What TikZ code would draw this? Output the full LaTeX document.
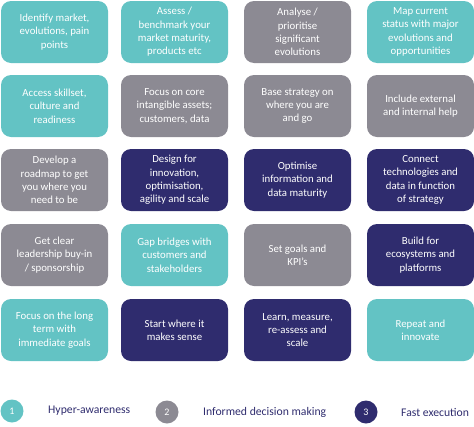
\documentclass[tikz,border=0pt]{standalone}
\usepackage{fontspec}
\setmainfont{Carlito}
\definecolor{tealc}{HTML}{63C3C4}
\definecolor{greyc}{HTML}{8C8A93}
\definecolor{navyc}{HTML}{2F2C6E}
\begin{document}
\begin{tikzpicture}[x=1pt,y=-1pt,
  box/.style={rounded corners=10pt, minimum width=107pt, minimum height=62pt, inner sep=0pt,
    text=white, align=center, font=\fontsize{10.8}{13.3}\selectfont},
  tb/.style={box, fill=tealc},
  gb/.style={box, fill=greyc},
  nb/.style={box, fill=navyc},
  legc/.style={circle, minimum size=23pt, inner sep=0pt, text=white, font=\fontsize{10}{12}\selectfont},
  legt/.style={anchor=west, inner sep=0pt, text=navyc, font=\fontsize{11.7}{14}\selectfont}]
\path[use as bounding box] (0,0) rectangle (474,426);
% row 1
\node[tb] (b11) at (54.5,32) {Identify market,\\evolutions, pain\\points};
\node[tb] (b12) at (174.5,32) {Assess /\\benchmark your\\market maturity,\\products etc};
\node[gb] (b13) at (297.5,32) {Analyse /\\prioritise\\significant\\evolutions};
\node[tb] (b14) at (420.5,32) {Map current\\status with major\\evolutions and\\opportunities};
% row 2
\node[tb] (b21) at (54.5,106) {Access skillset,\\culture and\\readiness};
\node[gb] (b22) at (174.5,106) {Focus on core\\intangible assets;\\customers, data};
\node[gb] (b23) at (297.5,106) {Base strategy on\\where you are\\and go};
\node[gb] (b24) at (420.5,106) {Include external\\and internal help};
% row 3
\node[gb] (b31) at (54.5,180) {Develop a\\roadmap to get\\you where you\\need to be};
\node[nb] (b32) at (174.5,180) {Design for\\innovation,\\optimisation,\\agility and scale};
\node[nb] (b33) at (297.5,180) {Optimise\\information and\\data maturity};
\node[nb] (b34) at (420.5,180) {Connect\\technologies and\\data in function\\of strategy};
% row 4
\node[gb] (b41) at (54.5,255) {Get clear\\leadership buy-in\\/ sponsorship};
\node[tb] (b42) at (174.5,255) {Gap bridges with\\customers and\\stakeholders};
\node[gb] (b43) at (297.5,255) {Set goals and\\KPI’s};
\node[nb] (b44) at (420.5,255) {Build for\\ecosystems and\\platforms};
% row 5
\node[tb] (b51) at (54.5,330) {Focus on the long\\term with\\immediate goals};
\node[nb] (b52) at (174.5,330) {Start where it\\makes sense};
\node[nb] (b53) at (297.5,330) {Learn, measure,\\re-assess and\\scale};
\node[tb] (b54) at (420.5,330) {Repeat and\\innovate};
% legend
\node[legc, fill=tealc] (c1) at (12,411) {1};
\node[legt] (l1) at (48,411) {Hyper-awareness};
\node[legc, fill=greyc] (c2) at (167,412) {2};
\node[legt] (l2) at (203,412) {Informed decision making};
\node[legc, fill=navyc] (c3) at (366,412) {3};
\node[legt] (l3) at (401,412) {Fast execution};
\end{tikzpicture}
\end{document}
